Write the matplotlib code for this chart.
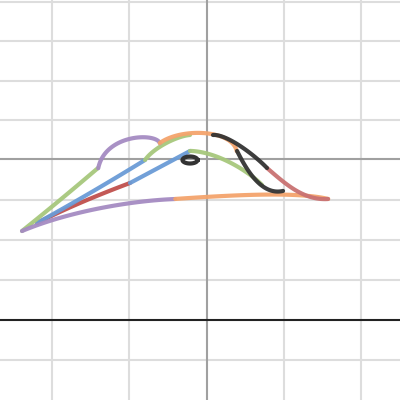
import matplotlib
matplotlib.use("Agg")
import matplotlib.pyplot as plt
import numpy as np

# grid positions (pixel-like coordinates)
vgrid = [52, 129, 284, 361]
hgrid = [2, 41, 81, 120, 200, 240, 280, 360]
axis_v = 207
axis_h_gray = 159
axis_h_black = 320

# curve segments: (color, xs, ys)
segments = [
    ("#c0504d", [37, 80, 130], [223, 203, 183]),
    ("#6a9bd6", [37, 90, 145], [223, 193, 160]),
    ("#6a9bd6", [130, 160, 190], [183, 167, 151]),
    ("#a7c87c", [22, 60, 98], [231, 200, 168]),
    ("#a7c87c", [145, 158, 175, 190], [160, 148, 139, 135]),
    ("#a7c87c", [190, 210, 230, 248, 262], [151, 154, 163, 173, 185]),
    ("#a58bc2", [98, 108, 120, 140, 152, 160], [168, 152, 141, 137, 139, 143]),
    ("#a58bc2", [22, 60, 100, 140, 175], [231, 218, 208, 202, 199]),
    ("#f4a46c", [160, 175, 195, 215, 228, 237], [143, 136, 133, 134, 141, 151]),
    ("#f4a46c", [175, 220, 260, 300, 328], [199, 196, 195, 195, 199]),
    ("#c97272", [267, 285, 305, 328], [168, 183, 195, 199]),
    ("#333333", [213, 230, 250, 267], [135, 140, 153, 168]),
    ("#333333", [237, 245, 255, 268, 283], [151, 165, 180, 189, 191]),
]

fig = plt.figure(figsize=(4, 4), dpi=100)
ax = fig.add_axes([0, 0, 1, 1])
ax.set_xlim(0, 400)
ax.set_ylim(400, 0)
ax.axis("off")
for x in vgrid:
    ax.axvline(x, color="#dddddd", lw=1.5, zorder=0)
for y in hgrid:
    ax.axhline(y, color="#dddddd", lw=1.5, zorder=0)
ax.axvline(axis_v, color="#a0a0a0", lw=1.5, zorder=0)
ax.axhline(axis_h_gray, color="#a0a0a0", lw=1.5, zorder=0)
ax.axhline(axis_h_black, color="#222222", lw=1.5, zorder=0)

for c, xs, ys in segments:
    xs = np.array(xs, float); ys = np.array(ys, float)
    t = np.linspace(0, 1, len(xs))
    tt = np.linspace(0, 1, 60)
    deg = min(3, len(xs) - 1)
    px = np.polyval(np.polyfit(t, xs, deg), tt)
    py = np.polyval(np.polyfit(t, ys, deg), tt)
    ax.plot(px, py, color=c, lw=3, solid_capstyle="round", alpha=0.95)

th = np.linspace(0, 2 * np.pi, 80)
ax.plot(190 + 7.5 * np.cos(th), 160 + 3.5 * np.sin(th), color="#333333", lw=3)

fig.savefig("out.png", dpi=100)
